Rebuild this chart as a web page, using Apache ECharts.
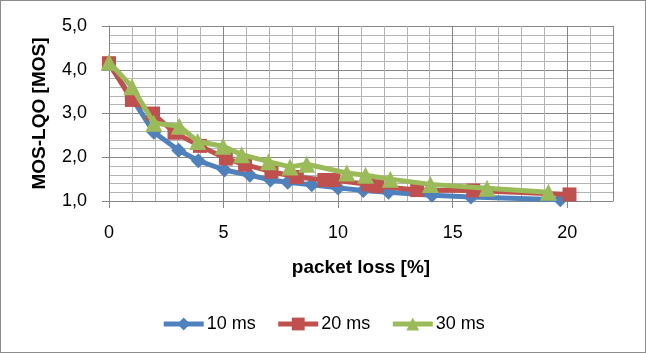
<!DOCTYPE html>
<html>
<head>
<meta charset="utf-8">
<script src="https://cdn.jsdelivr.net/npm/echarts@6/dist/echarts.min.js"></script>
<style>
    html, body { margin: 0; padding: 0; background: #fff; }
    #chart { width: 646px; height: 353px; box-sizing: border-box; border: 1px solid #8c8c8c; }
</style>
</head>
<body>
<div id="chart"></div>
<script>
// packet loss [%] and MOS-LQO
var loss10 = [0, 1.0, 1.96, 3.04, 3.9, 5.04, 6.15, 7.05, 7.8, 8.85, 10.0, 11.1, 12.2, 14.1, 15.8, 19.7];
var mos10 = [4.13, 3.35, 2.57, 2.16, 1.92, 1.71, 1.59, 1.48, 1.43, 1.37, 1.30, 1.24, 1.20, 1.13, 1.09, 1.03];

var loss20 = [0, 1.0, 1.92, 2.86, 3.97, 5.1, 5.94, 7.09, 8.2, 9.4, 9.8, 11.3, 11.7, 13.45, 15.9, 20.1];
var mos20 = [4.15, 3.31, 3.0, 2.56, 2.26, 1.97, 1.83, 1.67, 1.55, 1.48, 1.48, 1.38, 1.34, 1.25, 1.24, 1.15];

var loss30 = [0, 1.0, 1.96, 3.07, 3.87, 4.98, 5.79, 6.96, 7.9, 8.63, 10.38, 11.2, 12.28, 14.03, 16.5, 19.18];
var mos30 = [4.17, 3.61, 2.78, 2.71, 2.36, 2.25, 2.06, 1.90, 1.78, 1.84, 1.64, 1.59, 1.50, 1.38, 1.29, 1.20];

var seriesNames = ["10 ms", "20 ms", "30 ms"];
var seriesColors = ["#4f81bd", "#c0504d", "#9bbb59"];

function pairs(xs, ys) {
    return xs.map((x, i) => [x, ys[i]]);
}

var chart = echarts.init(document.getElementById('chart'));

var font = "'Liberation Sans', Arial, sans-serif";

var option = {
    animation: false,
    color: seriesColors,
    textStyle: { fontFamily: font },
    grid: {
        left: 108,
        right: 32,
        top: 25,
        bottom: 151,
        outerBoundsMode: 'none',
        containLabel: false
    },
    legend: {
        bottom: 14,
        left: 'center',
        itemWidth: 40,
        itemHeight: 16,
        itemGap: 20,
        lineStyle: { width: 5 },
        textStyle: { fontSize: 18, color: '#000', fontFamily: font, padding: [0, 0, 0, -2] },
        data: seriesNames
    },
    xAxis: {
        type: 'value',
        min: 0,
        max: 22,
        interval: 5,
        name: 'packet loss [%]',
        nameLocation: 'middle',
        nameGap: 57,
        nameTextStyle: { fontSize: 19, fontWeight: 'bold', color: '#000' },
        axisLine: { lineStyle: { color: '#868686' } },
        axisTick: { show: true, length: 7, lineStyle: { color: '#868686' } },
        axisLabel: { fontSize: 18, color: '#000', margin: 23, showMaxLabel: false },
        minorTick: { show: false, splitNumber: 5 },
        splitLine: { show: true, lineStyle: { color: '#868686', width: 1 } },
        minorSplitLine: { show: true, lineStyle: { color: '#b4b4b4', width: 1 } }
    },
    yAxis: {
        type: 'value',
        min: 1,
        max: 5,
        interval: 1,
        name: 'MOS-LQO [MOS]',
        nameLocation: 'middle',
        nameGap: 60,
        nameTextStyle: { fontSize: 19, fontWeight: 'bold', color: '#000' },
        axisLine: { show: true, lineStyle: { color: '#868686' } },
        axisTick: { show: true, length: 7, lineStyle: { color: '#868686' } },
        axisLabel: {
            fontSize: 18,
            color: '#000',
            margin: 22,
            formatter: v => v.toFixed(1).replace('.', ',')
        },
        minorTick: { show: false, splitNumber: 5 },
        splitLine: { show: true, lineStyle: { color: '#868686', width: 1 } },
        minorSplitLine: { show: true, lineStyle: { color: '#b4b4b4', width: 1 } }
    },
    series: [
        {
            name: seriesNames[0],
            type: 'line',
            data: pairs(loss10, mos10),
            symbol: 'diamond',
            symbolSize: 15,
            lineStyle: { width: 5 },
            z: 2
        },
        {
            name: seriesNames[1],
            type: 'line',
            data: pairs(loss20, mos20),
            symbol: 'rect',
            symbolSize: 14,
            lineStyle: { width: 5 },
            z: 3
        },
        {
            name: seriesNames[2],
            type: 'line',
            data: pairs(loss30, mos30),
            symbol: 'triangle',
            symbolSize: 17,
            lineStyle: { width: 5 },
            z: 4
        }
    ]
};

chart.setOption(option);
</script>
</body>
</html>
